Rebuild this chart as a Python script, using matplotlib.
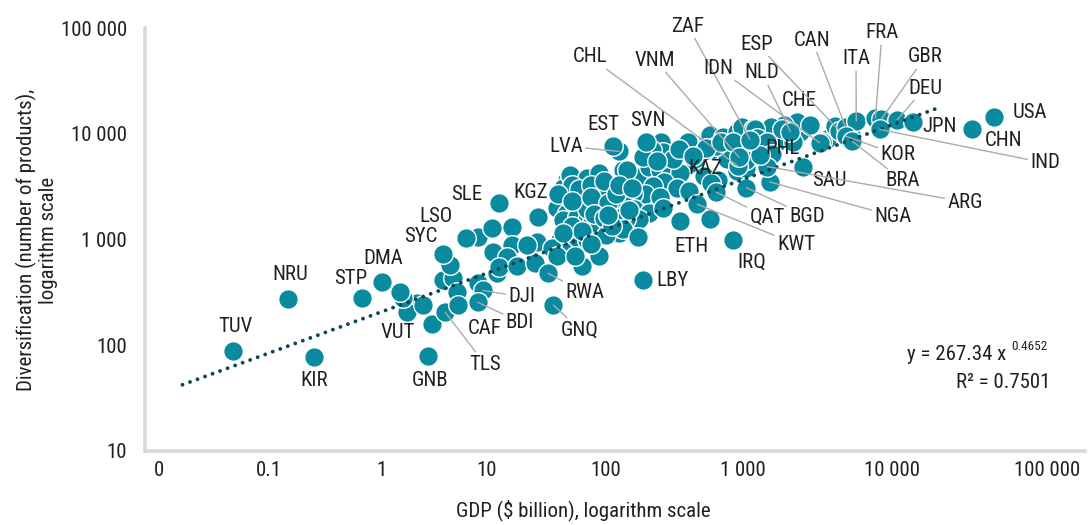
import numpy as np
import matplotlib
matplotlib.use("Agg")
import matplotlib.pyplot as plt
from matplotlib import font_manager

# ---------------- data ----------------
# Labelled economies: GDP ($ billion), diversification (number of products)
label_codes = ["TUV", "KIR", "NRU", "STP", "DMA", "GNB", "VUT", "TLS", "CAF", "SYC",
               "DJI", "BDI", "LSO", "SLE", "KGZ", "RWA", "GNQ", "LBY", "LVA", "EST",
               "SVN", "ETH", "KWT", "IRQ", "KAZ", "QAT", "BGD", "NGA", "SAU", "ARG",
               "PHL", "CHL", "VNM", "ZAF", "IDN", "NLD", "CHE", "ESP", "CAN", "ITA",
               "FRA", "GBR", "DEU", "JPN", "KOR", "BRA", "IND", "CHN", "USA"]
label_gdp = [0.045, 0.18, 0.116, 0.41, 0.58, 1.28, 0.79, 1.72, 2.15, 1.65,
             3.3, 3.0, 2.45, 4.3, 8.4, 10, 11, 51, 34, 30.5,
             54, 96, 130, 240, 165, 180, 300, 450, 800, 430,
             380, 260, 265, 320, 1060, 640, 890, 1480, 1650, 1980,
             2750, 3050, 4000, 5200, 1650, 1850, 2950, 14500, 21000]
label_products = [88, 78, 275, 280, 395, 79, 320, 205, 240, 730,
                  330, 255, 1030, 2200, 1630, 480, 240, 410, 6800, 7600,
                  8400, 1500, 2150, 1000, 3450, 2800, 3100, 3500, 4900, 4900,
                  6300, 4950, 6000, 8800, 8200, 10500, 12000, 10700, 11500, 13200,
                  14000, 13800, 13600, 13000, 9500, 8500, 11000, 11000, 14400]

# Other economies
other_gdp = [1.06, 0.89, 0.83, 1.17, 1.37, 1.65, 1.97, 2.1, 1.87, 3.0, 4.2, 4.4, 3.9,
             3.0, 3.85, 5.4, 5.4, 8.3, 5.0, 4.3, 5.9, 8.0, 7.0,
             14, 13, 14.5, 19.5, 24, 16.5, 13, 11.7, 13.8, 18, 23, 27.5, 24, 30, 38, 46,
             36, 48, 57, 13, 16.5, 19.5, 23, 16.5, 20.5, 24, 14, 17.5, 12.3, 14, 16.5,
             19.5, 13, 10.7, 11.7, 24, 18, 34, 46, 38,
             70, 72, 60, 51, 39, 110, 155, 165, 145, 125, 145, 185, 68, 81, 96, 73, 91,
             113, 61, 53, 68, 43, 36, 44, 57, 72, 48, 38, 36, 47, 160,
             255, 300, 270, 215, 19.5, 30, 25,
             160, 200, 180, 150, 255, 280, 335, 400, 470, 400, 510, 750, 670, 715, 570,
             455, 350, 360, 430, 550, 195, 240, 470, 300, 1200, 1380, 1800, 1100,
             15, 17, 21, 26, 12, 15, 21, 28, 32, 22, 26, 15, 18, 13, 27, 30, 21, 16,
             28, 40, 34, 42, 85, 95, 120, 65]
other_products = [250, 205, 280, 240, 160, 415, 430, 320, 575, 390, 480, 685, 760,
                  1050, 1290, 1320, 890, 950, 680, 545, 560, 605, 880,
                  3650, 3100, 4100, 3800, 4300, 2650, 2350, 2000, 1800, 2100, 2850, 2850, 2050, 1900, 2500, 2500,
                  4500, 3900, 4900, 1530, 1650, 1530, 1530, 1230, 1330, 1330, 1000, 1000, 1000, 830, 860,
                  1000, 780, 830, 700, 700, 560, 1150, 1050, 1330,
                  8300, 6700, 7000, 6000, 4500, 8400, 9100, 7000, 6800, 5300, 4000, 3650, 4500, 4000, 4300, 3500, 3100,
                  2900, 3200, 2700, 2500, 2700, 2400, 1950, 1800, 2000, 1550, 1550, 1250, 1060, 1550,
                  4450, 4700, 6000, 5800, 1950, 2350, 3000,
                  9700, 9300, 7700, 7300, 10400, 11600, 11000, 10200, 11000, 7700, 8300, 10300, 8300, 13000, 12000,
                  11500, 11200, 9200, 8300, 11200, 8400, 8300, 6500, 5600, 9000, 11800, 9700, 8300,
                  3300, 3000, 3300, 3600, 2700, 2300, 2500, 2200, 2700, 1750, 1600, 1350, 1200, 1150, 1100,
                  1350, 900, 700, 1700, 1900, 3300, 3100, 5800, 7200, 6200, 5500]

# Power trend line: y = a * x^b
trend_a = 267.34
trend_b = 0.4652
trend_r2 = 0.7501
trend_range = (0.019, 8000)

x_tick_labels = ["0", "0.1", "1", "10", "100", "1 000", "10 000", "100 000"]
y_ticks = [10, 100, 1000, 10000, 100000]
y_tick_labels = ["10", "100", "1 000", "10 000", "100 000"]

# ---------------- style ----------------
W, H = 1089, 525
AX_L, AX_B, AX_R, AX_T = 145, 451, 1085, 28   # axes box in pixels


def pick_font():
    names = {f.name for f in font_manager.fontManager.ttflist}
    for n in ["Liberation Sans Narrow", "Roboto Condensed", "Arial Narrow", "Liberation Sans"]:
        if n in names:
            return n
    return "DejaVu Sans"


FONT = pick_font()
plt.rcParams["font.family"] = [FONT, "DejaVu Sans"]
TEXT = "#231f20"
TEAL = "#0a8a9e"
TREND = "#0b4a55"
SPINE = "#d9d9d9"
LEADER = "#ababab"
FS = 15


def ax_frac(px, py):
    return ((px - AX_L) / (AX_R - AX_L), (AX_B - py) / (AX_B - AX_T))


fig = plt.figure(figsize=(W / 100, H / 100), dpi=100)
ax = fig.add_axes([AX_L / W, (H - AX_B) / H, (AX_R - AX_L) / W, (AX_B - AX_T) / H])
ax.set_xscale("log")
ax.set_yscale("log")
ax.set_xlim(0.01, 100000)
ax.set_ylim(10, 100000)

for s in ["top", "right"]:
    ax.spines[s].set_visible(False)
for s in ["left", "bottom"]:
    ax.spines[s].set_color(SPINE)
    ax.spines[s].set_linewidth(2.6)

ax.set_yticks(y_ticks)
ax.set_yticklabels(y_tick_labels)
ax.yaxis.set_minor_locator(matplotlib.ticker.NullLocator())
ax.xaxis.set_minor_locator(matplotlib.ticker.NullLocator())
ax.set_xticks([])
ax.tick_params(axis="y", length=0, pad=13, labelsize=FS, labelcolor=TEXT)

# x tick labels (placed as in the original artwork)
x_label_px = [159, 269, 382, 487, 606, 743, 892, 1047]
for lab, px in zip(x_tick_labels, x_label_px):
    fx, _ = ax_frac(px, 0)
    ax.text(fx, ax_frac(0, 471)[1], lab, transform=ax.transAxes, ha="center", va="center",
            fontsize=FS, color=TEXT, clip_on=False)

# points
all_gdp = np.array(other_gdp + label_gdp)
all_products = np.array(other_products + label_products)
ax.scatter(all_gdp, all_products, s=200, color=TEAL, edgecolor="white", linewidth=1.0, zorder=3)

# trend line
tx = np.geomspace(trend_range[0], trend_range[1], 200)
ax.plot(tx, trend_a * tx ** trend_b, color=TREND, lw=2.8, linestyle=(0, (0.01, 2.05)),
        dash_capstyle="round", zorder=5)

# labels: text position in pixels of original artwork, and whether a leader line is drawn
label_layout = {
    "TUV": (236, 327, False), "KIR": (314, 380, False), "NRU": (290, 274, False),
    "STP": (351, 278, False), "DMA": (383, 259, False), "GNB": (430, 380, False),
    "VUT": (398, 333, False), "TLS": (485, 364, True), "CAF": (485, 328, False),
    "SYC": (421, 237, False), "DJI": (522, 297, True), "BDI": (520, 322, True),
    "LSO": (436, 217, False), "SLE": (467, 194, False), "KGZ": (531, 192, False),
    "RWA": (585, 293, True), "GNQ": (580, 330, True), "LBY": (673, 281, False),
    "LVA": (566, 146, True), "EST": (603, 125, False), "SVN": (648, 120, False),
    "ETH": (691, 246, False), "KWT": (796, 244, True), "IRQ": (752, 262, False),
    "KAZ": (706, 168, False), "QAT": (767, 217, True), "BGD": (807, 216, True),
    "NGA": (893, 216, True), "SAU": (829, 180, False), "ARG": (965, 202, True),
    "PHL": (783, 148, False), "CHL": (590, 57, True), "VNM": (655, 60, True),
    "ZAF": (688, 26, True), "IDN": (718, 68, True), "NLD": (762, 73, True),
    "CHE": (799, 101, False), "ESP": (757, 44, True), "CAN": (812, 40, True),
    "ITA": (856, 59, True), "FRA": (882, 33, True), "GBR": (925, 57, True),
    "DEU": (925, 88, True), "JPN": (940, 127, False), "KOR": (898, 155, True),
    "BRA": (903, 181, True), "IND": (1045, 163, True), "CHN": (1003, 141, False),
    "USA": (1030, 113, False),
}

for code, g, p in zip(label_codes, label_gdp, label_products):
    px, py, leader = label_layout[code]
    pos = ax_frac(px, py)
    if leader:
        ax.annotate(code, xy=(g, p), xytext=pos, textcoords="axes fraction",
                    ha="center", va="center", fontsize=FS, color=TEXT, zorder=6,
                    annotation_clip=False,
                    arrowprops=dict(arrowstyle="-", color=LEADER, lw=1.0,
                                    shrinkA=0, shrinkB=0))
    else:
        ax.text(pos[0], pos[1], code, transform=ax.transAxes, ha="center", va="center",
                fontsize=FS, color=TEXT, zorder=6, clip_on=False)

# equation
ex, ey = ax_frac(1006, 354)
ax.text(ex, ey, f"y = {trend_a} x", transform=ax.transAxes, ha="right", va="center",
        fontsize=FS, color=TEXT)
sx, sy = ax_frac(1011, 346)
ax.text(sx, sy, f"{trend_b}", transform=ax.transAxes, ha="left", va="center",
        fontsize=9.5, color=TEXT)
rx, ry = ax_frac(1050, 383)
ax.text(rx, ry, f"R² = {trend_r2}", transform=ax.transAxes, ha="right", va="center",
        fontsize=FS, color=TEXT)

# axis titles
fig.text(583 / W, 1 - 510 / H, "GDP (\\$ billion), logarithm scale", ha="center", va="center",
         fontsize=FS, color=TEXT)
fig.text(37 / W, 1 - 240 / H, "Diversification (number of products),\nlogarithm scale",
         ha="center", va="center", rotation=90, fontsize=FS, color=TEXT, linespacing=1.15)

fig.savefig("out.png", dpi=100)
